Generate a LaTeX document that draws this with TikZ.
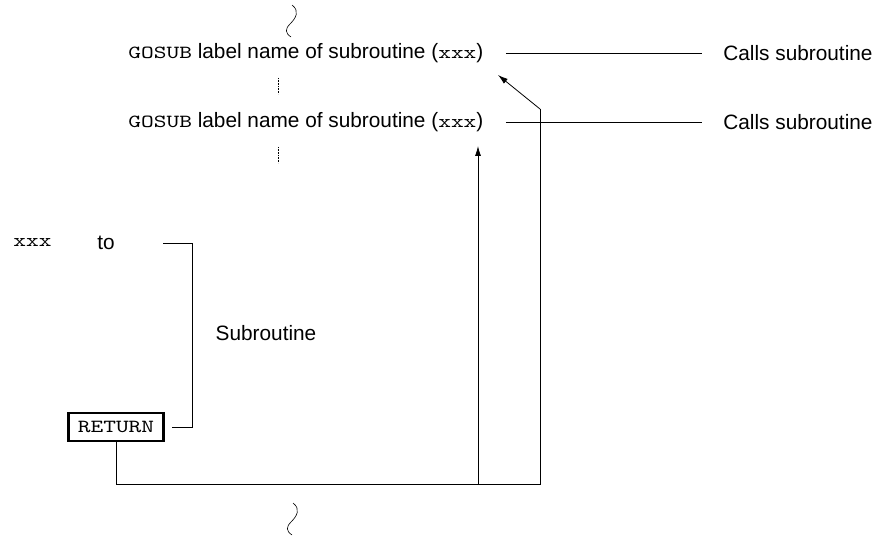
\documentclass[tikz,border=0pt]{standalone}
\usepackage{fontspec}
\setmainfont{Liberation Sans}
\newfontfamily\wideMono{lmmono10-regular.otf}[FakeStretch=1.31]
\usepackage{tikz}
\usetikzlibrary{arrows.meta}
\newcommand\kw[1]{{\fontsize{18.5}{20}\wideMono#1}}

\begin{document}
\begin{tikzpicture}[x=1pt,y=-1pt,line width=0.8pt,
  every node/.style={font=\fontsize{20.8}{24}\selectfont,inner sep=0pt},
  retbox/.style={draw,line width=2.2pt,minimum width=95pt,minimum height=28pt},
  dots/.style={line width=1pt,dash pattern=on 0.8pt off 0.8pt},
  arr/.style={-{Latex[length=10pt,width=6pt]}}]
 \useasboundingbox (0,0) rectangle (883,537);
 \node[anchor=west] (g1) at (128,53) {\kw{GOSUB} label name of subroutine (\kw{xxx})};
 \node[anchor=west] (g2) at (128,122) {\kw{GOSUB} label name of subroutine (\kw{xxx})};
 \node[anchor=west] (c1) at (723,53) {Calls subroutine};
 \node[anchor=west] (c2) at (723,122) {Calls subroutine};
 \node[anchor=west] (lbl) at (13,243) {\kw{xxx}};
 \node[anchor=west] (to) at (97,243) {to};
 \node (sub) at (266,333) {Subroutine};
 \node[retbox] (ret) at (116,427) {\kw{RETURN}};
 \coordinate (brtop) at (192,243);
 \coordinate (turn) at (540,109); \coordinate (tipa) at (498,75);
 \coordinate (corner) at (540,484);
 \coordinate (up) at (478,484); \coordinate (tipb) at (478,146);
 \coordinate (d1) at (278,78); \coordinate (d2) at (278,147);
 \coordinate (s1) at (292,5); \coordinate (s2) at (293,503);
 \draw (g1.east)++(22,0) -- ([xshift=-21pt]c1.west);
 \draw (g2.east)++(22,0) -- ([xshift=-21pt]c2.west);
 \draw ([xshift=48pt]to.east) -- (brtop) |- ([xshift=7pt]ret.east);
 \draw (ret.south) |- (corner) -- (turn);
 \draw[arr] (turn) -- (tipa);
 \draw[arr] (up) -- (tipb);
 \foreach \d in {d1,d2}{\draw[dots] (\d) -- ++(0,16);}
 \foreach \s in {s1,s2}{\draw[line width=0.6pt] (\s) .. controls ++(8,6) and ++(6,-6) .. ++(-2,19) .. controls ++(-5,5) and ++(-6,-4) .. ++(1,13);}
\end{tikzpicture}
\end{document}
